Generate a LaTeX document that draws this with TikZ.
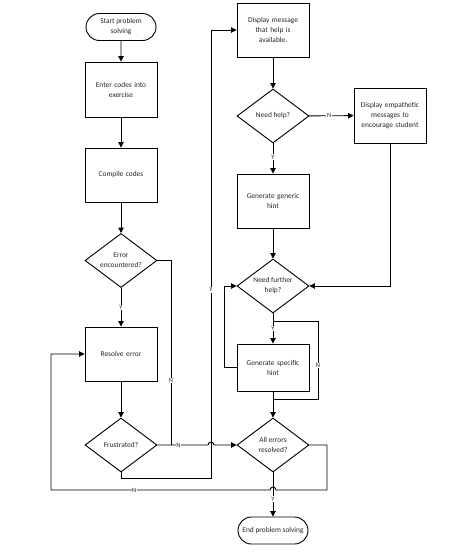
\documentclass[tikz,border=0pt]{standalone}
\usepackage{fontspec}
\setmainfont{Carlito}
\usetikzlibrary{shapes.geometric,shapes.misc,arrows.meta}
\begin{document}
\begin{tikzpicture}[x=1pt,y=-1pt,
  every node/.style={font=\fontsize{7.4}{10}\selectfont, text=black!85, align=center},
  procbox/.style={draw, fill=white, line width=0.9pt, minimum width=72pt, minimum height=54pt, inner sep=1pt, text width=64pt},
  termbox/.style={draw, fill=white, line width=0.9pt, rounded rectangle, minimum width=72pt, minimum height=27pt, inner sep=1pt},
  decbox/.style={draw, fill=white, line width=0.9pt, diamond, aspect=1.33, minimum width=72pt, minimum height=54pt, inner sep=0pt},
  conn/.style={line width=0.9pt},
  arr/.style={conn, -{Triangle[length=5.5pt,width=5.5pt]}},
  lab/.style={fill=white, inner sep=0.6pt, font=\fontsize{6.5}{8}\selectfont}
]
\useasboundingbox (0,0) rectangle (474,552);

% left column
\node[termbox] (start) at (121,27) {Start problem\\solving};
\node[procbox, minimum height=55pt] (enter) at (121,89.5) {Enter codes into\\exercise};
\node[procbox] (compile) at (121,175) {Compile codes};
\node[decbox] (err) at (121,260.5) {Error\\encountered?};
\node[procbox] (resolve) at (121,354) {Resolve error};
\node[decbox] (frus) at (121,445) {Frustrated?};

% right column
\node[procbox] (disp) at (273,30) {Display message\\that help is\\available.};
\node[decbox] (needhelp) at (273,116) {Need help?};
\node[procbox, minimum height=55pt, text width=70pt] (emp) at (390,115.5) {Display empathetic\\messages to\\encourage student};
\node[procbox] (generic) at (273,201) {Generate generic\\hint};
\node[decbox] (further) at (273,286) {Need further\\help?};
\node[procbox, minimum height=47pt] (specific) at (273,367.5) {Generate specific\\hint};
\node[decbox] (allerr) at (273,445) {All errors\\resolved?};
\node[termbox] (endn) at (273,530.5) {End problem solving};

% helper coordinates
\coordinate (jN) at (171,445);
\coordinate (fb) at (121,478);
\coordinate (yb) at (211,478);
\coordinate (bN) at (273,321);
\coordinate (cN) at (273,399);
\coordinate (rr) at (327,445);
\coordinate (rb) at (327,490);
\coordinate (lb) at (51,490);

% straight flow
\draw[arr] (start) -- (enter);
\draw[arr] (enter) -- (compile);
\draw[arr] (compile) -- (err);
\draw[arr] (err) -- node[lab, pos=0.5] {Y} (resolve);
\draw[arr] (resolve) -- (frus);
\draw[arr] (disp) -- (needhelp);
\draw[arr] (needhelp) -- node[lab, pos=0.45] {N} (emp);
\draw[arr] (needhelp) -- node[lab, pos=0.45] {Y} (generic);
\draw[arr] (generic) -- (further);
\draw[arr] (further) -- node[lab, pos=0.5] {Y} (specific);
\draw[arr] (specific) -- (allerr);

% error N branch
\draw[conn] (err.east) -- (err.east -| jN) -- node[lab, pos=0.65] {N} (jN);
% frustrated N -> all errors (jump over x=211)
\draw[arr] (frus.east) -- (jN) -- node[lab, pos=0.2] {N} (208,445) arc[start angle=180, end angle=360, radius=3] -- (allerr.west);
% frustrated Y -> display message
\draw[arr] (frus.south) -- (fb) -- (yb) -- node[lab, pos=0.42] {Y} (yb |- disp.west) -- (disp.west);
% empathetic -> need further
\draw[arr] (emp.south) -- (emp.south |- further.east) -- (further.east);
% need further N loop
\draw[conn] (bN) -- (bN -| 318,0) -- node[lab, pos=0.57] {N} (cN -| 318,0) -- (cN);
% specific -> need further (loop back)
\draw[arr] (specific.west) -- (specific.west -| 224,0) -- (224,286) -- (further.west);
% all errors Y -> end
\draw[arr] (allerr.south) -- node[lab, pos=0.6] {Y} (endn.north);
% all errors N -> resolve error (jump over x=273)
\draw[arr] (allerr.east) -- (rr) -- (rb) -- (276,490) arc[start angle=0, end angle=-180, radius=3] -- node[lab, pos=0.62] {N} (lb) -- (lb |- resolve.west) -- (resolve.west);
\end{tikzpicture}
\end{document}
